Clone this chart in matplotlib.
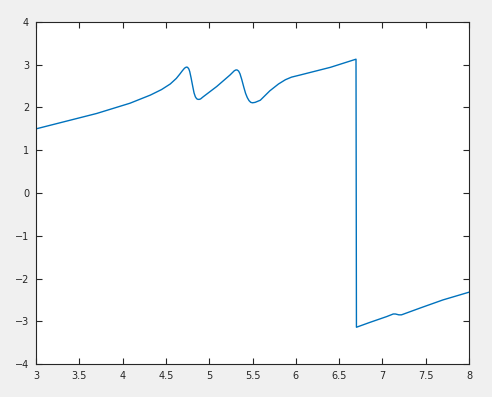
import matplotlib
matplotlib.use("Agg")
import matplotlib.pyplot as plt

# points
x_vals = [3.0, 3.35, 3.7, 4.085, 4.32, 4.45, 4.55, 4.62, 4.66, 4.69, 4.715, 4.735, 4.75,
          4.765, 4.775, 4.79, 4.81, 4.825, 4.84, 4.855, 4.87, 4.885, 4.90, 4.93,
          5.086, 5.24, 5.27, 5.29, 5.31, 5.325, 5.34, 5.355, 5.375, 5.40, 5.42,
          5.44, 5.46, 5.48, 5.50, 5.53, 5.59, 5.70, 5.80, 5.88, 5.95,
          6.05, 6.4, 6.695, 6.70, 6.85, 7.05, 7.10, 7.125, 7.15, 7.19, 7.22,
          7.45, 7.70, 8.0]
y_vals = [1.50, 1.68, 1.86, 2.10, 2.29, 2.42, 2.55, 2.68, 2.78, 2.86, 2.92, 2.945, 2.94,
          2.90, 2.84, 2.70, 2.49, 2.34, 2.25, 2.205, 2.19, 2.19, 2.20, 2.25,
          2.49, 2.76, 2.82, 2.86, 2.88, 2.875, 2.85, 2.79, 2.66, 2.47, 2.33,
          2.23, 2.16, 2.12, 2.11, 2.12, 2.17, 2.39, 2.55, 2.65, 2.71,
          2.76, 2.94, 3.13, -3.14, -3.03, -2.89, -2.85, -2.83, -2.83, -2.85, -2.85,
          -2.68, -2.50, -2.32]

x_ticks = [3, 3.5, 4, 4.5, 5, 5.5, 6, 6.5, 7, 7.5, 8]
x_labels = ["3", "3.5", "4", "4.5", "5", "5.5", "6", "6.5", "7", "7.5", "8"]
y_ticks = [-4, -3, -2, -1, 0, 1, 2, 3, 4]

fig = plt.figure(figsize=(4.92, 3.97), dpi=100, facecolor="#f0f0f0")
ax = fig.add_axes([0.0732, 0.0831, 0.8801, 0.8615])
ax.plot(x_vals, y_vals, color="#0072BD", linewidth=1.0)

ax.set_xlim(3, 8)
ax.set_ylim(-4, 4)
ax.set_xticks(x_ticks)
ax.set_xticklabels(x_labels)
ax.set_yticks(y_ticks)
ax.tick_params(direction="in", length=4, width=0.8, top=True, right=True,
               labelsize=7, colors="#262626", pad=5)
for s in ax.spines.values():
    s.set_color("#262626")
    s.set_linewidth(0.8)

fig.savefig("out.png", dpi=100, facecolor=fig.get_facecolor())
